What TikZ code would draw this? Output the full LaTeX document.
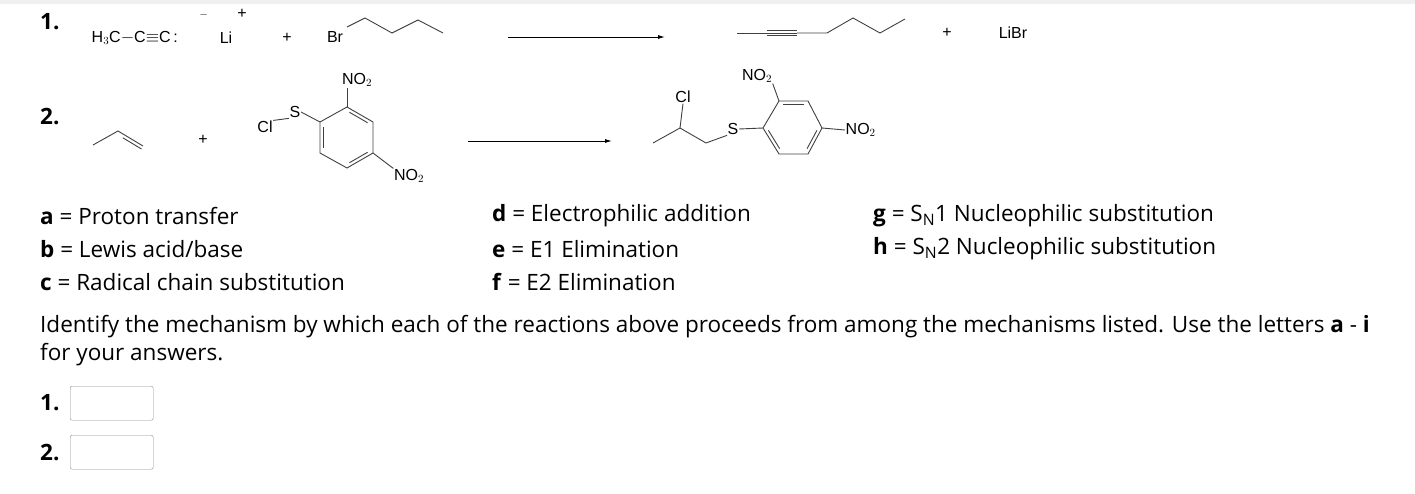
\documentclass[tikz,border=0pt]{standalone}
\usepackage{fontspec}
\setmainfont{Open Sans}
\newfontfamily\chem{Liberation Sans}
\usetikzlibrary{arrows.meta,calc}
\begin{document}
\begin{tikzpicture}[x=1pt,y=-1pt,
  ch/.style={font=\chem\fontsize{16}{18}\selectfont,inner sep=0.5pt},
  txt/.style={font=\fontsize{22.5}{28}\selectfont,anchor=west,inner sep=0},
  bd/.style={line width=0.9pt,draw=black!75},
  rarrow/.style={line width=0.9pt,-{Latex[length=7pt,width=4pt]}},
  ansbox/.style={draw=black!45,rounded corners=2pt,minimum width=83pt,minimum height=34pt,anchor=north west,inner sep=0}]
\useasboundingbox (0,0) rectangle (1415,494);
\fill[black!6] (0,0) rectangle (1415,4);
% reaction 1
\node[txt,font=\bfseries\fontsize{22.5}{28}\selectfont] (n1) at (40,22) {1.};
\node[ch,anchor=west] (acet) at (91,38) {H$_3$C$-$C$\equiv$C\,:};
\node[ch] (minus) at (204,17) {$^-$};
\node[ch] (li) at (226,38) {Li};
\node[ch] (liplus) at (242,14) {+};
\node[ch] (p1) at (287,38) {+};
\node[ch] (br) at (335,37) {Br};
\coordinate (b1) at (347,27); \coordinate (b2) at (365,18);
\coordinate (b3) at (392,33); \coordinate (b4) at (418,20); \coordinate (b5) at (443,33);
\draw[bd] (b1) -- (b2) -- (b3) -- (b4) -- (b5);
\coordinate (a1s) at (508,37); \coordinate (a1e) at (665,37);
\draw[rarrow] (a1s) -- (a1e);
\coordinate (q1) at (737,33); \coordinate (q2) at (767,33); \coordinate (q3) at (797,33);
\coordinate (q4) at (827,33); \coordinate (q5) at (853,18); \coordinate (q6) at (880,33); \coordinate (q7) at (905,19);
\draw[bd] (q1) -- (q2); \draw[bd] (q3) -- (q4) -- (q5) -- (q6) -- (q7);
\draw[bd] (q2) -- (q3);
\draw[bd] ([yshift=-2.5]q2) -- ([yshift=-2.5]q3);
\draw[bd] ([yshift=2.5]q2) -- ([yshift=2.5]q3);
\node[ch] (p2) at (947,33) {+};
\node[ch] (libr) at (1013,33) {LiBr};
% reaction 2
\node[txt,font=\bfseries\fontsize{22.5}{28}\selectfont] (n2) at (40,117) {2.};
\coordinate (e1) at (93,145); \coordinate (e2) at (118,131); \coordinate (e3) at (143,146);
\draw[bd] (e1) -- (e2) -- (e3);
\draw[bd] ($(e2)!0.25!(e3)+(-1.5,3)$) -- ($(e2)!1!(e3)+(-1.5,3)$);
\node[ch] (p3) at (203,140) {+};
% reactant ring
\coordinate (r1) at (347,107); \coordinate (r2) at (373,122); \coordinate (r3) at (373,153);
\coordinate (r4) at (347,168); \coordinate (r5) at (320,153); \coordinate (r6) at (320,122);
\draw[bd] (r1) -- (r2) -- (r3) -- (r4) -- (r5) -- (r6) -- cycle;
\draw[bd] ($(r1)!0.15!(r2)+(-1.5,3)$) -- ($(r1)!0.85!(r2)+(-1.5,3)$);
\draw[bd] ($(r3)!0.15!(r4)+(-1.5,-3)$) -- ($(r3)!0.85!(r4)+(-1.5,-3)$);
\draw[bd] ($(r5)!0.15!(r6)+(3.3,0)$) -- ($(r5)!0.85!(r6)+(3.3,0)$);
\node[ch] (no2a) at (357,80) {NO$_2$};
\draw[bd] (r1) -- (no2a.south -| r1);
\node[ch] (no2b) at (409,176) {NO$_2$};
\draw[bd] (r3) -- (no2b.north west);
\node[ch] (s1) at (295,112) {S};
\draw[bd] (r6) -- (s1.east);
\node[ch] (cl1) at (265,127) {Cl};
\draw[bd] (cl1.north east) -- (s1.south west);
\coordinate (a2s) at (468,141); \coordinate (a2e) at (612,141);
\draw[rarrow] (a2s) -- (a2e);
% product ring
\coordinate (t1) at (763,128); \coordinate (t2) at (779,101); \coordinate (t3) at (808,101);
\coordinate (t4) at (822,128); \coordinate (t5) at (808,154); \coordinate (t6) at (779,154);
\draw[bd] (t1) -- (t2) -- (t3) -- (t4) -- (t5) -- (t6) -- cycle;
\draw[bd] ($(t2)!0.15!(t3)+(0,3.3)$) -- ($(t2)!0.85!(t3)+(0,3.3)$);
\draw[bd] ($(t4)!0.15!(t5)+(-3,-1.5)$) -- ($(t4)!0.85!(t5)+(-3,-1.5)$);
\draw[bd] ($(t6)!0.15!(t1)+(3,-1.5)$) -- ($(t6)!0.85!(t1)+(3,-1.5)$);
\node[ch] (no2c) at (757,76) {NO$_2$};
\draw[bd] (t2) -- (no2c.south east);
\node[ch,anchor=west] (no2d) at (845,130) {NO$_2$};
\draw[bd] (t4) -- (no2d.west);
\node[ch] (s2) at (733,129) {S};
\draw[bd] (s2.east) -- (t1);
\coordinate (c1) at (653,143); \coordinate (c2) at (680,128); \coordinate (c3) at (706,143);
\draw[bd] (c1) -- (c2) -- (c3) -- (s2.south west);
\node[ch] (cl2) at (683,97) {Cl};
\draw[bd] (c2) -- (cl2.south);
% legend
\node[txt] (la) at (40,216) {\textbf{a} = Proton transfer};
\node[txt] (lb) at (40,249) {\textbf{b} = Lewis acid/base};
\node[txt] (lc) at (40,282) {\textbf{c} = Radical chain substitution};
\node[txt] (ld) at (492,216) {\textbf{d} = Electrophilic addition};
\node[txt] (le) at (492,249) {\textbf{e} = E1 Elimination};
\node[txt] (lf) at (492,282) {\textbf{f} = E2 Elimination};
\node[txt] (lg) at (873,216) {\textbf{g} = S\textsubscript{N}1 Nucleophilic substitution};
\node[txt] (lh) at (873,249) {\textbf{h} = S\textsubscript{N}2 Nucleophilic substitution};
\node[txt] (q1t) at (40,327) {Identify the mechanism by which each of the reactions above proceeds from among the mechanisms listed. Use the letters \textbf{a} - \textbf{i}};
\node[txt] (q2t) at (40,355) {for your answers.};
\node[txt] (ans1) at (40,403) {\textbf{1.}};
\node[ansbox] (box1) at (70,386) {};
\node[txt] (ans2) at (40,452) {\textbf{2.}};
\node[ansbox] (box2) at (70,435) {};
\end{tikzpicture}
\end{document}
